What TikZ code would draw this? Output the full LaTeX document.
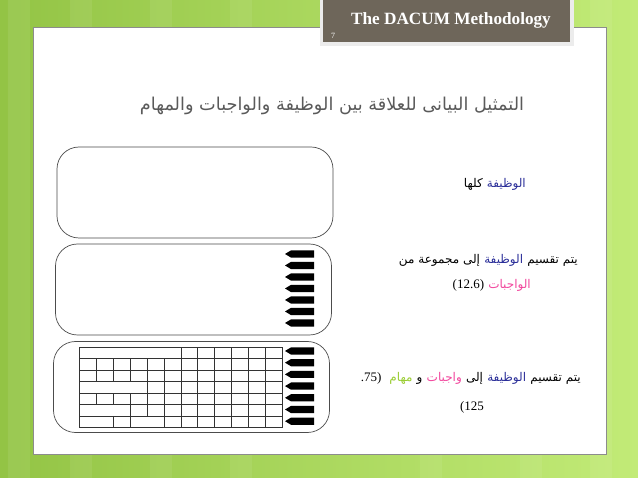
\documentclass[tikz,border=0pt]{standalone}
\usepackage{fontspec}
\newfontfamily\arabicfont[Script=Arabic]{DejaVu Sans}
\newfontfamily\slideserif{Liberation Serif}
\TeXXeTstate=1
\usetikzlibrary{
    positioning,
    calc}

\definecolor{slidegreenL}{HTML}{93C445}
\definecolor{slidegreenR}{HTML}{C2EB77}
\definecolor{dacumbrown}{HTML}{6E665A}
\definecolor{titlegray}{HTML}{5A5A5A}
\definecolor{jobblue}{HTML}{2B2F99}
\definecolor{dutypink}{HTML}{F2489E}
\definecolor{taskgreen}{HTML}{9ACD32}

\begin{document}
\begin{tikzpicture}[x=1pt,y=-1pt,
    jobbox/.style={draw=black!70, line width=0.7pt, rounded corners=22pt,
        minimum width=276pt, minimum height=91pt, inner sep=0pt, fill=white},
    artext/.style={font=\arabicfont\fontsize{12}{14}\selectfont, text=black, inner sep=0pt},
    jobword/.style={artext, text=jobblue},
    dutyword/.style={artext, text=dutypink},
    taskword/.style={artext, text=taskgreen},
    numtext/.style={font=\slideserif\fontsize{13}{15}\selectfont, text=black, inner sep=0pt},
    nextword/.style={anchor=base east}]
\newcommand{\taskgridx}{79.3}
\newcommand{\taskgridy}{347.3}
\newcommand{\taskcellw}{16.92}
\newcommand{\taskcellh}{11.43}
\newcommand{\wsp}{3.8pt}

\useasboundingbox (0,0) rectangle (638,478);

% slide background
\shade[left color=slidegreenL, right color=slidegreenR] (0,0) rectangle (638,478);
\foreach \sx in {8,70,150,230,420,520,590}
{
    \fill[white, opacity=0.07] (\sx,0) rectangle ++(22,478);
}

\draw[draw=black!45, line width=1pt, fill=white] (33,28) rectangle (606,455);

% title tab
\fill[white!85!gray] (320,0) rectangle (574,46);
\fill[dacumbrown] (323,0) rectangle (570,42);
\node[text=white, font=\slideserif\fontsize{8}{9}\selectfont] (pagenum) at (333,36) {7};
\node[text=white, font=\slideserif\bfseries\fontsize{17.2}{20}\selectfont] (dacum) at (451,20) {The DACUM Methodology};

\node[artext, font=\arabicfont\fontsize{17.7}{21}\selectfont, text=titlegray] (heading) at (332,106)
    {\beginR التمثيل البيانى للعلاقة بين الوظيفة والواجبات والمهام\endR};

% the three boxes
\node[jobbox] (job) at (195,192.5) {};
\node[jobbox] (duties) at (193.5,289.5) {};
\node[jobbox] (tasks) at (191.5,387) {};

\foreach \k in {0,...,6}
{
    \fill (285,254+\k*11.5) -- ++(6,-3.6) -- ++(23,0) -- ++(0,7.2) -- ++(-23,0) -- cycle;
    \fill (285,351+\k*11.7) -- ++(6,-3.6) -- ++(23,0) -- ++(0,7.2) -- ++(-23,0) -- cycle;
}

% task grid
\draw[black!80, line width=0.5pt] (\taskgridx,\taskgridy) rectangle ++(12*\taskcellw,7*\taskcellh);
\foreach \r in {1,...,6}
{
    \draw[black!80, line width=0.5pt] (\taskgridx,\taskgridy+\r*\taskcellh) -- ++(12*\taskcellw,0);
}
\foreach \r/\cols in {0/{6,...,11},1/{1,...,11},2/{1,...,11},3/{4,...,11},4/{1,...,11},5/{3,...,11},6/{2,3,5,6,7,8,9,10,11}}
{
    \foreach \c in \cols
    {
        \draw[black!80, line width=0.5pt] (\taskgridx+\c*\taskcellw,\taskgridy+\r*\taskcellh) -- ++(0,\taskcellh);
    }
}

% texts on the right, read from right to left
\node[jobword, anchor=east] (whole1) at (526,184) {الوظيفة};
\node[artext, nextword] (whole2) at ([xshift=-\wsp]whole1.base west) {كلها};

\node[artext, anchor=east] (splitA1) at (578,262) {\beginR يتم تقسيم\endR};
\node[jobword, nextword] (splitA2) at ([xshift=-\wsp]splitA1.base west) {الوظيفة};
\node[artext, nextword] (splitA3) at ([xshift=-\wsp]splitA2.base west) {\beginR إلى مجموعة من\endR};

\node[dutyword, anchor=east] (splitB1) at (531,285) {الواجبات};
\node[numtext, nextword] (splitB2) at ([xshift=-\wsp]splitB1.base west) {(12.6)};

\node[artext, anchor=east] (splitC1) at (581,380) {\beginR يتم تقسيم\endR};
\node[jobword, nextword] (splitC2) at ([xshift=-\wsp]splitC1.base west) {الوظيفة};
\node[artext, nextword] (splitC3) at ([xshift=-\wsp]splitC2.base west) {إلى};
\node[dutyword, nextword] (splitC4) at ([xshift=-\wsp]splitC3.base west) {واجبات};
\node[artext, nextword] (splitC5) at ([xshift=-\wsp]splitC4.base west) {و};
\node[taskword, nextword] (splitC6) at ([xshift=-\wsp]splitC5.base west) {مهام};
\node[numtext, nextword] (splitC7) at ([xshift=-2*\wsp]splitC6.base west) {.75)};

\node[numtext] (splitD) at (472,407) {(125};

\end{tikzpicture}
\end{document}
